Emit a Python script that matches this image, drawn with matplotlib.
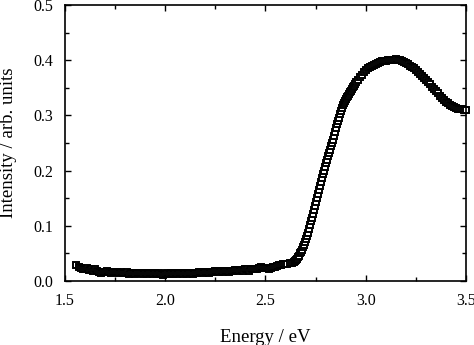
import matplotlib
matplotlib.use("Agg")
import matplotlib.pyplot as plt
from matplotlib.ticker import MultipleLocator

# ---- data ----
energy_low = [1.555, 1.57, 1.58, 1.59, 1.60, 1.61, 1.62, 1.63, 1.64, 1.65,
              1.66, 1.67, 1.68, 1.69, 1.70, 1.71, 1.72, 1.73, 1.74, 1.75,
              1.76, 1.77, 1.78, 1.79, 1.80, 1.81, 1.82, 1.83, 1.84, 1.85,
              1.86, 1.87, 1.88, 1.89, 1.90, 1.91, 1.92, 1.93, 1.94, 1.95,
              1.96, 1.97, 1.98, 1.99, 2.00, 2.01, 2.02, 2.03, 2.04, 2.05,
              2.06, 2.07, 2.08, 2.09, 2.10, 2.11, 2.12, 2.13, 2.14, 2.15,
              2.16, 2.17, 2.18, 2.19, 2.20, 2.21, 2.22, 2.23, 2.24, 2.25,
              2.26, 2.27, 2.28, 2.29, 2.30, 2.31, 2.32, 2.33, 2.34, 2.35,
              2.36, 2.37, 2.38, 2.39, 2.40, 2.41, 2.42, 2.43, 2.44, 2.45,
              2.46, 2.47, 2.48, 2.49, 2.50, 2.51, 2.52, 2.53, 2.54, 2.55,
              2.56, 2.57, 2.58, 2.59, 2.60, 2.61, 2.62, 2.63, 2.64]
intensity_low = [0.029, 0.025, 0.023, 0.022, 0.021, 0.023, 0.020, 0.021, 0.019, 0.021,
                 0.018, 0.017, 0.015, 0.017, 0.016, 0.018, 0.016, 0.015, 0.017, 0.017,
                 0.016, 0.014, 0.016, 0.015, 0.014, 0.016, 0.013, 0.015, 0.014, 0.012,
                 0.014, 0.015, 0.014, 0.012, 0.014, 0.013, 0.015, 0.015, 0.012, 0.014,
                 0.013, 0.015, 0.013, 0.011, 0.013, 0.014, 0.012, 0.014, 0.013, 0.015,
                 0.012, 0.014, 0.015, 0.013, 0.014, 0.012, 0.014, 0.015, 0.013, 0.015,
                 0.014, 0.016, 0.016, 0.014, 0.016, 0.017, 0.015, 0.017, 0.016, 0.018,
                 0.018, 0.016, 0.018, 0.017, 0.019, 0.019, 0.017, 0.019, 0.018, 0.020,
                 0.020, 0.018, 0.020, 0.019, 0.021, 0.021, 0.019, 0.021, 0.022, 0.021,
                 0.022, 0.023, 0.025, 0.023, 0.024, 0.023, 0.022, 0.024, 0.026, 0.026,
                 0.027, 0.029, 0.029, 0.030, 0.031, 0.031, 0.032, 0.033, 0.035]

energy_edge = [2.645, 2.650, 2.655, 2.660, 2.665, 2.670, 2.675, 2.680, 2.685, 2.690,
               2.695, 2.700, 2.705, 2.710, 2.715, 2.720, 2.725, 2.730, 2.735, 2.740,
               2.745, 2.750, 2.755, 2.760, 2.765, 2.770, 2.775, 2.780, 2.785, 2.790,
               2.795, 2.800, 2.805, 2.810, 2.815, 2.820, 2.825, 2.830, 2.835, 2.840,
               2.845, 2.850, 2.855, 2.860, 2.865, 2.870, 2.875, 2.880, 2.885, 2.890,
               2.895, 2.900, 2.905, 2.910, 2.915, 2.920, 2.925, 2.930, 2.935, 2.940,
               2.945, 2.950]
intensity_edge = [0.036, 0.038, 0.040, 0.043, 0.046, 0.050, 0.053, 0.057, 0.061, 0.066,
                  0.070, 0.076, 0.081, 0.087, 0.094, 0.101, 0.108, 0.115, 0.121, 0.128,
                  0.135, 0.143, 0.150, 0.158, 0.165, 0.172, 0.179, 0.186, 0.193, 0.200,
                  0.206, 0.213, 0.220, 0.226, 0.232, 0.238, 0.244, 0.250, 0.256, 0.263,
                  0.270, 0.277, 0.284, 0.290, 0.296, 0.302, 0.308, 0.313, 0.318, 0.322,
                  0.326, 0.330, 0.333, 0.336, 0.339, 0.342, 0.345, 0.348, 0.351, 0.354,
                  0.357, 0.360]

energy_high = [2.96, 2.97, 2.98, 2.99, 3.00, 3.01, 3.02, 3.03, 3.04, 3.05,
               3.06, 3.07, 3.08, 3.09, 3.10, 3.11, 3.12, 3.13, 3.14, 3.15,
               3.16, 3.17, 3.18, 3.19, 3.20, 3.21, 3.22, 3.23, 3.24, 3.25,
               3.26, 3.27, 3.28, 3.29, 3.30, 3.31, 3.32, 3.33, 3.34, 3.35,
               3.36, 3.37, 3.38, 3.39, 3.40, 3.41, 3.42, 3.43, 3.44, 3.45,
               3.46, 3.47, 3.48, 3.49, 3.50]
intensity_high = [0.365, 0.370, 0.374, 0.379, 0.382, 0.385, 0.388, 0.390, 0.392, 0.393,
                  0.395, 0.396, 0.398, 0.398, 0.399, 0.400, 0.400, 0.401, 0.401, 0.402,
                  0.401, 0.400, 0.399, 0.397, 0.395, 0.393, 0.390, 0.388, 0.385, 0.382,
                  0.378, 0.375, 0.372, 0.368, 0.365, 0.361, 0.357, 0.352, 0.348, 0.344,
                  0.340, 0.336, 0.332, 0.328, 0.325, 0.322, 0.319, 0.317, 0.315, 0.313,
                  0.312, 0.311, 0.311, 0.310, 0.310]

x_ticks = [1.5, 2.0, 2.5, 3.0, 3.5]
y_ticks = [0.0, 0.1, 0.2, 0.3, 0.4, 0.5]
x_label = "Energy / eV"
y_label = "Intensity / arb. units"

# ---- figure ----
plt.rcParams['font.family'] = ['Liberation Serif', 'DejaVu Serif']

fig = plt.figure(figsize=(4.74, 3.45), dpi=100)
ax = fig.add_axes([0.137, 0.1855, 0.846, 0.80])

energy = energy_low + energy_edge + energy_high
intensity = intensity_low + intensity_edge + intensity_high
ax.plot(energy, intensity, linestyle='none', marker='s', markersize=4.6,
        markerfacecolor='white', markeredgecolor='black', markeredgewidth=1.4,
        clip_on=False)

ax.set_xlim(1.5, 3.5)
ax.set_ylim(0.0, 0.5)
ax.set_xticks(x_ticks)
ax.set_yticks(y_ticks)
ax.set_xticklabels([f"{v:.1f}" for v in x_ticks])
ax.set_yticklabels([f"{v:.1f}" for v in y_ticks])
ax.xaxis.set_minor_locator(MultipleLocator(0.25))
ax.yaxis.set_minor_locator(MultipleLocator(0.05))
ax.tick_params(which='both', direction='in', top=True, right=True,
               labelsize=11.5, pad=8.5, width=1.0)
ax.tick_params(which='major', length=4.3)
ax.tick_params(which='minor', length=2.6)
for s in ax.spines.values():
    s.set_linewidth(1.2)

ax.set_xlabel(x_label, fontsize=13.5)
ax.set_ylabel(y_label, fontsize=13.5)
ax.xaxis.set_label_coords(0.5, -0.175)
ax.yaxis.set_label_coords(-0.12, 0.5)

fig.savefig("out.png", dpi=100)
